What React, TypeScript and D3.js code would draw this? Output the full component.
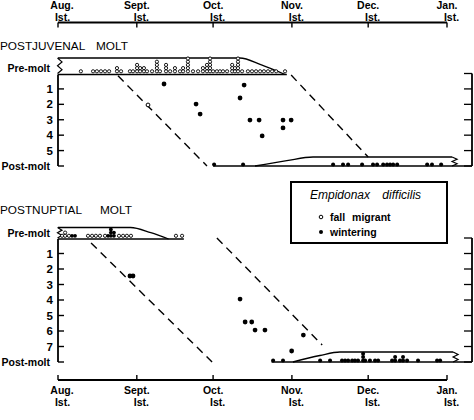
import * as d3 from 'd3';

// days counted from Aug. 1st
const MONTH_LABELS = ['Aug.', 'Sept.', 'Oct.', 'Nov.', 'Dec.', 'Jan.'];
const MONTH_STARTS = [0, 31, 61, 92, 122, 153];

// ---- postjuvenal molt ----
// [day, birds stacked]
const JUV_PRE_MIGRANT: [number, number][] = [
  [9.0, 1], [13.8, 1], [15.3, 1], [16.9, 1], [18.5, 1], [20.1, 1], [23.2, 2], [24.8, 1],
  [28.3, 1], [29.5, 1], [31.1, 3], [32.3, 2], [33.8, 2], [35.0, 1], [37.0, 1], [38.9, 4],
  [40.1, 1], [42.5, 3], [44.1, 1], [46.0, 2], [48.0, 1], [49.2, 2], [51.1, 5], [53.1, 1],
  [55.1, 1], [57.0, 2], [58.6, 3], [59.8, 5], [61.0, 1], [62.5, 1], [63.7, 1], [64.9, 1],
  [66.5, 1], [68.5, 3], [69.6, 2], [70.8, 5], [72.4, 1], [74.7, 1], [76.3, 1], [77.9, 1],
  [79.5, 1], [81.0, 1], [82.6, 1], [84.2, 1], [85.8, 1], [89.3, 1],
];
// [day, molt stage]
const JUV_MID_MIGRANT: [number, number][] = [[35.4, 2.04]];
const JUV_MID_WINTER: [number, number][] = [
  [41.7, 0.68], [54.3, 1.98], [55.9, 2.63], [71.6, 1.59], [73.2, 0.75], [75.5, 3.02],
  [79.1, 3.02], [80.3, 4.05], [88.5, 3.02], [91.7, 3.02], [88.5, 3.53],
];
const JUV_POST_WINTER: [number, number][] = [
  [61.4, 1], [72.8, 1], [108.2, 1], [112.1, 1], [114.1, 1], [119.6, 1], [123.9, 1], [125.5, 1],
  [127.9, 1], [129.4, 1], [130.6, 1], [131.8, 1], [133.4, 1], [145.2, 1], [147.1, 1], [150.7, 1],
];
// [day, relative height of the envelope]
const JUV_PRE_ENVELOPE: [number, number][] = [[0, 1], [71.5, 1], [80, 0.58], [89.3, 0]];
const JUV_POST_ENVELOPE: [number, number][] = [[77.5, 0], [90, 0.6], [100.3, 1], [155, 1]];
const JUV_GUIDES: [number, number][][] = [
  [[23.6, 0.15], [58.6, 6]],
  [[91.7, 0.1], [122, 5.42]],
];

// ---- postnuptial molt ----
const NUP_PRE_MIGRANT: [number, number][] = [
  [1.6, 1], [2.8, 2], [4.3, 1], [11.8, 1], [13.4, 1], [14.9, 1], [16.5, 1], [18.5, 1],
  [24.0, 1], [25.6, 1], [27.1, 1], [28.7, 1], [46.4, 1], [48.8, 1],
];
const NUP_PRE_WINTER: [number, number][] = [[5.5, 1], [6.7, 1], [19.7, 1], [20.8, 3], [22.0, 2]];
const NUP_MID_WINTER: [number, number][] = [
  [28.3, 2.45], [29.5, 2.45], [71.6, 3.94], [73.6, 5.42], [76.2, 5.42], [77.5, 5.94],
  [81.4, 5.94], [96.5, 6.26], [91.9, 7.29],
];
const NUP_POST_WINTER: [number, number][] = [
  [84.6, 1], [88.5, 1], [103.1, 1], [107.0, 1], [111.7, 1], [112.9, 1], [114.1, 1], [115.7, 1],
  [116.8, 1], [118.0, 1], [120.0, 3], [120.8, 1], [122.7, 1], [124.7, 1], [125.9, 1], [131.4, 1],
  [132.6, 2], [134.5, 1], [135.7, 2], [137.3, 1], [141.6, 1], [149.1, 1], [150.3, 1],
];
const NUP_PRE_ENVELOPE: [number, number][] = [[0, 1], [28.5, 1], [36.5, 0.55], [43.5, 0]];
const NUP_POST_ENVELOPE: [number, number][] = [[92.4, 0], [103, 0.65], [110.9, 1], [155.4, 1]];
const NUP_GUIDES: [number, number][][] = [
  [[13, 0.32], [60.6, 8]],
  [[62.5, 0], [103.9, 6.9]],
];

const FONT = "'Liberation Sans', Arial, sans-serif";
const RIGHT_AXIS = 472;

const x = d3.scaleLinear().domain([0, 153]).range([58, 447]);

interface PanelProps {
  y: d3.ScaleLinear<number, number>;
  maxStage: number;
  title: string;
  titleY: number;
  moltX: number;
  preMigrant: [number, number][];
  preWinter: [number, number][];
  midMigrant: [number, number][];
  midWinter: [number, number][];
  postWinter: [number, number][];
  preEnvelope: [number, number][];
  preBandH: number;
  preLineEnd: number;
  postEnvelope: [number, number][];
  postBandH: number;
  postLineStart: number;
  guides: [number, number][][];
}

const zigzag = (x0: number, top: number, bottom: number, w: number) => {
  const n = 4;
  const pts: [number, number][] = [];
  for (let i = 0; i <= n; i++) {
    pts.push([x0 + (i % 2 === 0 ? 0 : w), top + ((bottom - top) * i) / n]);
  }
  return d3.line()(pts) || '';
};

const Panel = (p: PanelProps) => {
  const { y, maxStage } = p;
  const preBase = y(0) + 1;
  const postBase = y(maxStage);
  const envLine = (base: number, h: number) =>
    d3
      .line<[number, number]>()
      .x((d) => x(d[0]))
      .y((d) => base - d[1] * h)
      .curve(d3.curveMonotoneX);
  const stages = d3.range(1, maxStage);
  const postEnd = p.postEnvelope[p.postEnvelope.length - 1];

  return (
    <g>
      <text x={0} y={p.titleY} fontSize={11.8} fontFamily={FONT}>
        {p.title}
      </text>
      <text x={p.moltX} y={p.titleY} fontSize={11.8} fontFamily={FONT}>
        MOLT
      </text>

      {/* left stage axis */}
      <line x1={58} x2={58} y1={preBase} y2={postBase} stroke="#000" strokeWidth={1.8} />
      {d3.range(1, maxStage + 1).map((s) => (
        <line key={s} x1={58} x2={64} y1={y(s)} y2={y(s)} stroke="#000" strokeWidth={1.4} />
      ))}
      {stages.map((s) => (
        <text
          key={s}
          x={53}
          y={y(s)}
          dy="0.36em"
          textAnchor="end"
          fontSize={11.5}
          fontWeight="bold"
          fontFamily={FONT}
        >
          {s}
        </text>
      ))}
      <text x={50} y={y(0) - 1.5} textAnchor="end" fontSize={10.5} fontWeight="bold" fontFamily={FONT}>
        Pre-molt
      </text>
      <text x={50} y={postBase + 4} textAnchor="end" fontSize={10.5} fontWeight="bold" fontFamily={FONT}>
        Post-molt
      </text>

      {/* right stage axis */}
      <line x1={RIGHT_AXIS} x2={RIGHT_AXIS} y1={y(0)} y2={postBase} stroke="#000" strokeWidth={1.8} />
      {d3.range(0, maxStage + 1).map((s) => (
        <line key={s} x1={RIGHT_AXIS - 8} x2={RIGHT_AXIS} y1={y(s)} y2={y(s)} stroke="#000" strokeWidth={1.3} />
      ))}

      {/* pre-molt band */}
      <path d={envLine(preBase, p.preBandH)(p.preEnvelope) || ''} fill="none" stroke="#000" strokeWidth={1.3} />
      <line x1={58} x2={x(p.preLineEnd)} y1={preBase} y2={preBase} stroke="#000" strokeWidth={1.6} />
      <path
        d={zigzag(57.5, preBase - p.preBandH, preBase - 1, 4.5)}
        fill="none"
        stroke="#000"
        strokeWidth={1.2}
      />

      {/* post-molt band */}
      <path d={envLine(postBase, p.postBandH)(p.postEnvelope) || ''} fill="none" stroke="#000" strokeWidth={1.3} />
      <line x1={x(p.postLineStart)} x2={RIGHT_AXIS} y1={postBase} y2={postBase} stroke="#000" strokeWidth={1.6} />
      <path
        d={zigzag(x(postEnd[0]), postBase - p.postBandH, postBase, 5)}
        fill="none"
        stroke="#000"
        strokeWidth={1.2}
      />

      {/* guide lines */}
      {p.guides.map((g, i) => (
        <line
          key={i}
          x1={x(g[0][0])}
          y1={y(g[0][1])}
          x2={x(g[1][0])}
          y2={y(g[1][1])}
          stroke="#000"
          strokeWidth={1.4}
          strokeDasharray="8 5.5"
        />
      ))}

      {/* pre-molt birds */}
      {p.preMigrant.flatMap(([d, n], i) =>
        d3.range(n).map((k) => (
          <circle
            key={`pm${i}-${k}`}
            cx={x(d)}
            cy={preBase - 3.2 - k * 3.2}
            r={1.6}
            fill="#fff"
            stroke="#000"
            strokeWidth={0.9}
          />
        ))
      )}
      {p.preWinter.flatMap(([d, n], i) =>
        d3.range(n).map((k) => (
          <circle key={`pw${i}-${k}`} cx={x(d)} cy={preBase - 3.2 - k * 3.2} r={1.9} fill="#000" />
        ))
      )}

      {/* birds in molt */}
      {p.midMigrant.map(([d, s], i) => (
        <circle key={`mm${i}`} cx={x(d)} cy={y(s)} r={1.9} fill="#fff" stroke="#000" strokeWidth={1} />
      ))}
      {p.midWinter.map(([d, s], i) => (
        <circle key={`mw${i}`} cx={x(d)} cy={y(s)} r={2.4} fill="#000" />
      ))}

      {/* post-molt birds */}
      {p.postWinter.flatMap(([d, n], i) =>
        d3.range(n).map((k) => (
          <circle key={`po${i}-${k}`} cx={x(d)} cy={postBase - 1.5 - k * 3.4} r={2} fill="#000" />
        ))
      )}
    </g>
  );
};

const MonthAxis = ({ yLine, tickDir, monthY, firstY }: { yLine: number; tickDir: number; monthY: number; firstY: number }) => (
  <g fontFamily={FONT} fontSize={10.5} fontWeight="bold">
    <line x1={x(0)} x2={x(153)} y1={yLine} y2={yLine} stroke="#000" strokeWidth={1.8} />
    {MONTH_STARTS.map((d, i) => (
      <g key={d}>
        <line x1={x(d)} x2={x(d)} y1={yLine} y2={yLine + tickDir * 5} stroke="#000" strokeWidth={1.4} />
        <text x={x(d) + (i === 0 ? 4 : 0)} y={monthY} textAnchor="middle">
          {MONTH_LABELS[i]}
        </text>
        <text x={x(d) + 4.5} y={firstY} textAnchor="middle">
          Ist.
        </text>
      </g>
    ))}
  </g>
);

export default function App() {
  const yJuv = d3.scaleLinear().domain([0, 6]).range([73.5, 166]);
  const yNup = d3.scaleLinear().domain([0, 8]).range([238, 362]);

  return (
    <svg
      width={474}
      height={420}
      viewBox="0 0 474 420"
      style={{ position: 'absolute', left: 0, top: 0, background: '#fff' }}
    >
      <rect width={474} height={420} fill="#fff" />
      <MonthAxis yLine={22.5} tickDir={1} monthY={9} firstY={20.5} />
      <MonthAxis yLine={380} tickDir={-1} monthY={394} firstY={406} />

      <Panel
        y={yJuv}
        maxStage={6}
        title="POSTJUVENAL"
        titleY={49.5}
        moltX={96}
        preMigrant={JUV_PRE_MIGRANT}
        preWinter={[]}
        midMigrant={JUV_MID_MIGRANT}
        midWinter={JUV_MID_WINTER}
        postWinter={JUV_POST_WINTER}
        preEnvelope={JUV_PRE_ENVELOPE}
        preBandH={16.5}
        preLineEnd={90}
        postEnvelope={JUV_POST_ENVELOPE}
        postBandH={9}
        postLineStart={61}
        guides={JUV_GUIDES}
      />
      <Panel
        y={yNup}
        maxStage={8}
        title="POSTNUPTIAL"
        titleY={214}
        moltX={100}
        preMigrant={NUP_PRE_MIGRANT}
        preWinter={NUP_PRE_WINTER}
        midMigrant={[]}
        midWinter={NUP_MID_WINTER}
        postWinter={NUP_POST_WINTER}
        preEnvelope={NUP_PRE_ENVELOPE}
        preBandH={11.5}
        preLineEnd={49.5}
        postEnvelope={NUP_POST_ENVELOPE}
        postBandH={10}
        postLineStart={84}
        guides={NUP_GUIDES}
      />

      {/* legend */}
      <g fontFamily={FONT}>
        <rect x={291} y={182} width={156} height={61} fill="#fff" stroke="#000" strokeWidth={2} />
        <text x={310} y={199} fontSize={12} fontStyle="italic" wordSpacing={9}>
          Empidonax difficilis
        </text>
        <circle cx={321} cy={217} r={1.8} fill="#fff" stroke="#000" strokeWidth={1} />
        <text x={330} y={220.5} fontSize={10.5} fontWeight="bold" wordSpacing={4}>
          fall migrant
        </text>
        <circle cx={321} cy={232} r={2} fill="#000" />
        <text x={330} y={235.5} fontSize={10.5} fontWeight="bold">
          wintering
        </text>
      </g>
    </svg>
  );
}
